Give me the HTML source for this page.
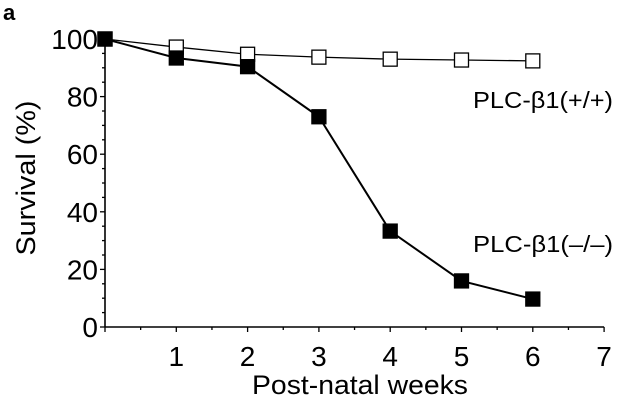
<!DOCTYPE html>
<html><head><meta charset="utf-8"><style>
body{margin:0;background:#fff}
svg text{font-family:"Liberation Sans",sans-serif;fill:#000}
</style></head><body>
<svg id="chart" width="620" height="406">
<text x="3" y="20" font-size="22" font-weight="bold">a</text>
<g id="axes"></g>
<g id="series"></g>
<text x="473" y="108" font-size="23" textLength="140" lengthAdjust="spacingAndGlyphs">PLC-β1(+/+)</text>
<text x="473" y="252" font-size="23" textLength="140" lengthAdjust="spacingAndGlyphs">PLC-β1(–/–)</text>
<text x="360" y="394" font-size="27" text-anchor="middle" textLength="216" lengthAdjust="spacingAndGlyphs">Post-natal weeks</text>
<text transform="translate(35,178) rotate(-90)" font-size="27" text-anchor="middle" textLength="155" lengthAdjust="spacingAndGlyphs">Survival (%)</text>
</svg>
<script>
const weeks=[0,1,2,3,4,5,6];
const wildType=[100,97.2,94.7,93.7,93,92.7,92.4];
const knockout=[100,93.4,90.4,73,33.3,16,9.7];
const xTicks=[1,2,3,4,5,6,7];
const yTicks=[0,20,40,60,80,100];
const NS="http://www.w3.org/2000/svg";
const X=v=>105+v*71.3, Y=v=>327-v*2.88;
function mk(tag,attrs,parent){const e=document.createElementNS(NS,tag);for(const k in attrs)e.setAttribute(k,attrs[k]);parent.appendChild(e);return e;}
const ax=document.getElementById('axes'), sr=document.getElementById('series');
let l=mk('line',{x1:X(0),y1:Y(0),x2:X(7),y2:Y(0),stroke:'#000','stroke-width':1.6},ax);


l=mk('line',{x1:X(0),y1:Y(0),x2:X(0),y2:Y(100),stroke:'#000','stroke-width':1.6},ax);


for(let i=0;i<=14;i++){const t=mk('line',{x1:X(i/2),y1:Y(0),x2:X(i/2),y2:Y(0)+(i%2?3:5),stroke:'#000','stroke-width':1.3},ax);

}
for(let v=0;v<=100;v+=5){const t=mk('line',{x1:X(0),y1:Y(v),x2:X(0)-(v%20?3:5),y2:Y(v),stroke:'#000','stroke-width':1.3},ax);

}
xTicks.forEach(v=>{const t=mk('text',{x:X(v),y:366,'font-size':28,'text-anchor':'middle'},ax);t.textContent=v;

});
yTicks.forEach(v=>{const t=mk('text',{x:98,y:Y(v)+10,'font-size':28,'text-anchor':'end'},ax);t.textContent=v;

});
function series(vals,fill,name,w){
 const p=mk('polyline',{points:weeks.map((w,i)=>X(w)+','+Y(vals[i])).join(' '),fill:'none',stroke:'#000','stroke-width':w},sr);
 
 
 weeks.forEach((w,i)=>{const r=mk('rect',{x:X(w)-7,y:Y(vals[i])-7,width:14,height:14,fill:fill,stroke:'#000','stroke-width':1.3},sr);
 
 });
}
series(wildType,'#fff','wild-type',1.3);
series(knockout,'#000','knockout',2);
</script>
</body></html>
